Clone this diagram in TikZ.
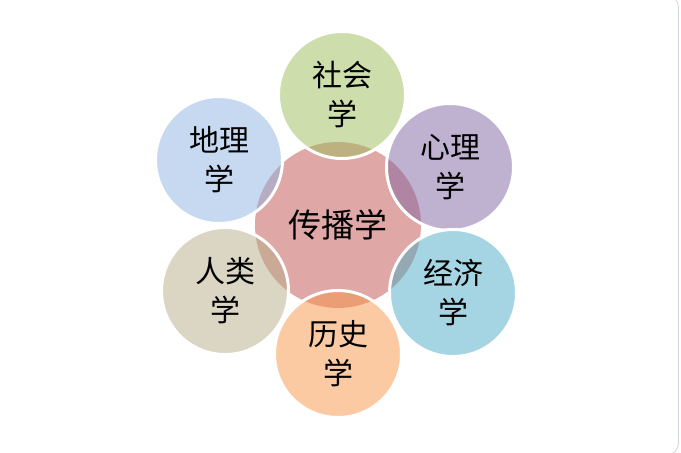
\documentclass[tikz,border=0pt]{standalone}
\usepackage{fontspec}
\newfontfamily\cjk{Noto Sans CJK SC}
\definecolor{corered}{HTML}{C0504D}
\definecolor{socgreen}{HTML}{9BBB59}
\definecolor{psypurple}{HTML}{8064A2}
\definecolor{ecoaqua}{HTML}{4BACC6}
\definecolor{hisorange}{HTML}{F79646}
\definecolor{anttan}{RGB}{181,173,135}
\definecolor{geoblue}{HTML}{8DB3E2}
\definecolor{framegray}{RGB}{208,214,222}

\begin{document}
\begin{tikzpicture}[x=1pt,y=-1pt]
    \tikzstyle{disc}=[circle,inner sep=0pt,align=center,text opacity=1,font=\cjk\fontsize{30}{39}\selectfont]
    \tikzstyle{core}=[disc,minimum size=166pt,fill=corered,fill opacity=0.5,font=\cjk\fontsize{33}{40}\selectfont]
    \tikzstyle{field}=[disc,minimum size=127pt,draw=white,line width=3pt,fill opacity=0.5]
    \useasboundingbox (0,0) rectangle (681,453);
    \draw[framegray,line width=0.8pt,rounded corners=12pt] (-100,-5) rectangle (678.5,455);
      \node[core] (core) at (338,225) {传播学};
      \foreach \name/\x/\y/\col/\txt in {soc/342/95/socgreen/社会\\学,
                                          psy/450/167/psypurple/心理\\学,
                                          eco/453/293/ecoaqua/经济\\学,
                                          his/338/354/hisorange/历史\\学,
                                          ant/225/291/anttan/人类\\学,
                                          geo/219/160/geoblue/地理\\学}
        \node[field,fill=\col] (\name) at (\x,\y) {\txt};
  \end{tikzpicture}
\end{document}
